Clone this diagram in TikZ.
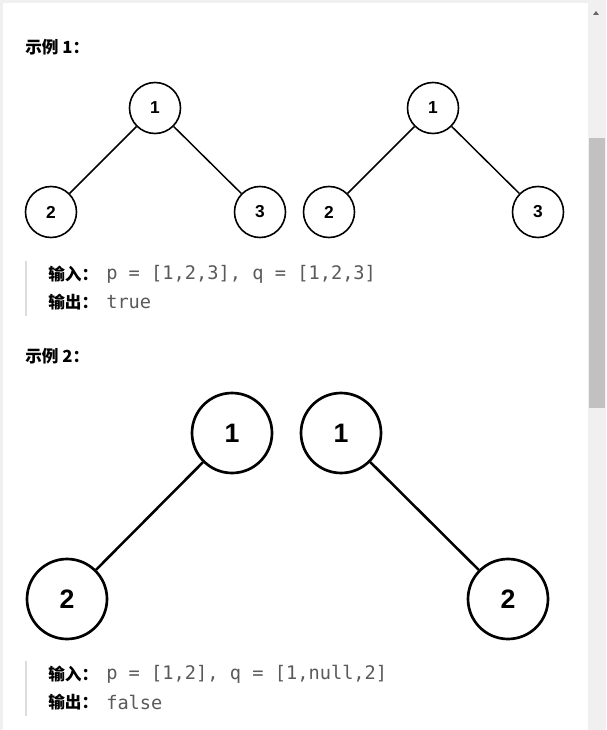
\documentclass[tikz,border=0pt]{standalone}
\usepackage{fontspec}
\setmainfont{Liberation Sans}
\newfontfamily\cjk{Noto Sans CJK SC}
\newfontfamily\monof{DejaVu Sans Mono}
\definecolor{codegray}{HTML}{5A5A5A}
\definecolor{barg}{HTML}{DDDDDD}
\definecolor{trackg}{HTML}{F0F0F0}
\definecolor{thumbg}{HTML}{C1C1C1}
\tikzset{
  sm/.style={circle,draw,line width=1.2pt,minimum size=51*0.75pt,inner sep=0pt,font=\bfseries\fontsize{13}{13}\selectfont},
  bg/.style={circle,draw,line width=2pt,minimum size=80*0.75pt,inner sep=0pt,font=\bfseries\fontsize{20}{20}\selectfont},
  e1/.style={line width=1.1pt},
  e2/.style={line width=1.9pt},
  head/.style={anchor=west,inner sep=0pt,font=\cjk\bfseries\fontsize{12.5}{13}\selectfont},
  lab/.style={anchor=west,inner sep=0pt,font=\cjk\bfseries\fontsize{12.5}{13}\selectfont},
  code/.style={anchor=west,inner sep=0pt,text=codegray,font=\monof\fontsize{14}{14}\selectfont}
}
\begin{document}
\begin{tikzpicture}[x=0.75pt,y=-0.75pt]
\fill[trackg] (0,0) rectangle (606,730);
\fill[white] (3,3) rectangle (588,730);
\fill[thumbg] (589,138) rectangle (605,408);
\fill[black!60] (593,15) -- (599,15) -- (596,11) -- cycle;
\useasboundingbox (0,0) rectangle (606,730);

\node[head] (h1) at (25,47) {示例 1：};
\node[sm] (a1) at (155,108) {1};
\node[sm] (a2) at (51,212) {2};
\node[sm] (a3) at (260,212) {3};
\node[sm] (b1) at (433,108) {1};
\node[sm] (b2) at (329,212) {2};
\node[sm] (b3) at (538,212) {3};
\draw[e1] (a1) -- (a2); \draw[e1] (a1) -- (a3);
\draw[e1] (b1) -- (b2); \draw[e1] (b1) -- (b3);

\fill[barg] (25,261) rectangle (27,316);
\node[lab] (i1) at (48,274) {输入：};
\node[code] (c1) at (106,274) {p = [1,2,3], q = [1,2,3]};
\node[lab] (o1) at (48,302) {输出：};
\node[code] (d1) at (106,302) {true};

\node[head] (h2) at (25,356) {示例 2：};
\node[bg] (p1) at (232,433) {1};
\node[bg] (p2) at (67,599) {2};
\node[bg] (q1) at (341,433) {1};
\node[bg] (q2) at (508,599) {2};
\draw[e2] (p1) -- (p2); \draw[e2] (q1) -- (q2);

\fill[barg] (25,661) rectangle (27,716);
\node[lab] (i2) at (48,674) {输入：};
\node[code] (c2) at (106,674) {p = [1,2], q = [1,null,2]};
\node[lab] (o2) at (48,702) {输出：};
\node[code] (d2) at (106,702) {false};
\end{tikzpicture}
\end{document}
